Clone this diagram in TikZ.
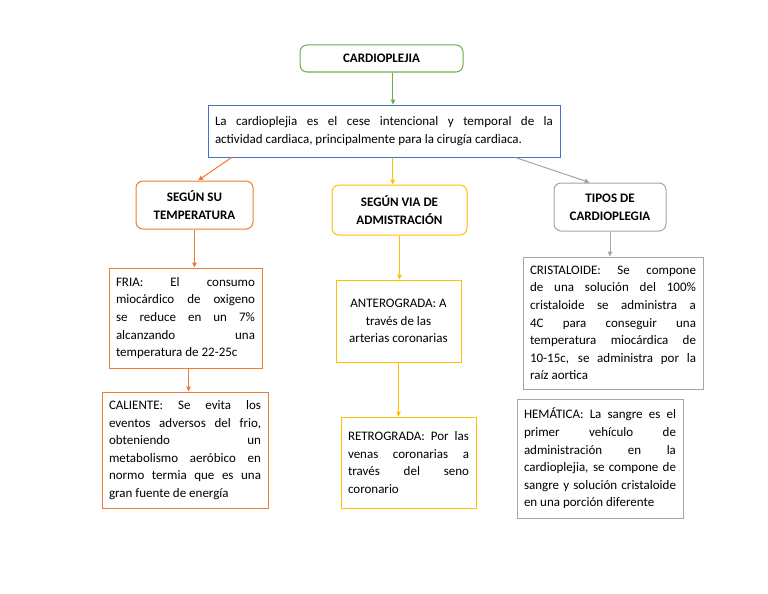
\documentclass[tikz,border=0pt]{standalone}
\usepackage{fontspec}
\setmainfont{Carlito}
\usepackage{xcolor}
\usetikzlibrary{positioning,arrows.meta,calc}
\definecolor{mapgreen}{HTML}{70AD47}
\definecolor{mapblue}{HTML}{4472C4}
\definecolor{maporange}{HTML}{ED7D31}
\definecolor{mapyellow}{HTML}{FFC000}
\definecolor{mapgrey}{HTML}{A5A5A5}
\tikzset{
  box/.style={
    draw, fill=white, inner ysep=2pt, text=black, line width=1pt,
    font=\fontsize{13}{17.6}\selectfont,
  },
  head/.style ={box, rounded corners=7pt, align=center,
                font=\fontsize{13}{17.6}\selectfont\bfseries},
  para/.style ={box, align=justify, inner xsep=7pt},
  link/.style ={-{Triangle[length=5pt,width=4.5pt]}, line width=1pt},
}
\tolerance=10000
\hyphenpenalty=10000

\begin{document}
\begin{tikzpicture}[x=1pt, y=-1pt]
\useasboundingbox (0,0) rectangle (768,594);

% ============================================ top
\node[head, draw=mapgreen, minimum width=163pt, minimum height=27pt]
  (cardio) at (381.5,58.5) {CARDIOPLEJIA};
\node[para, draw=mapblue, text width=338pt, minimum height=52pt]
  (defn) at (384,131)
  {La cardioplejia es el cese intencional y temporal de la\linebreak
   actividad cardiaca, principalmente para la cirugía cardiaca.};

% ============================================ left: temperatura
\node[head, draw=maporange, minimum width=117pt, minimum height=48pt]
  (temp) at (194.5,205) {SEGÚN SU\\TEMPERATURA};
\node[para, draw=maporange, text width=139pt, minimum height=100pt]
  (fria) at (185.5,318)
  {FRIA: El consumo\linebreak miocárdico de oxigeno\linebreak
   se reduce en un 7\%\linebreak alcanzando una\linebreak
   temperatura de 22-25c};
\node[para, draw=maporange, text width=152pt, minimum height=116pt]
  (caliente) at (185,450)
  {CALIENTE: Se evita los\linebreak eventos adversos del frio,\linebreak
   obteniendo un\linebreak metabolismo aeróbico en\linebreak
   normo termia que es una\linebreak gran fuente de energía};

% ============================================ centre: via
\node[head, draw=mapyellow, minimum width=135pt, minimum height=50pt]
  (via) at (399.5,210) {SEGÚN VIA DE\\ADMISTRACIÓN};
\node[box, draw=mapyellow, align=center, minimum width=125pt, minimum height=82pt]
  (antero) at (398.5,321)
  {ANTEROGRADA: A\\través de las\\arterias coronarias};
\node[para, draw=mapyellow, text width=121pt, minimum height=91pt]
  (retro) at (408.5,462.5)
  {RETROGRADA: Por las\linebreak venas coronarias a\linebreak
   través del seno\linebreak coronario};

% ============================================ right: tipos
\node[head, draw=mapgrey, minimum width=112pt, minimum height=48pt]
  (tipos) at (610,207) {TIPOS DE\\CARDIOPLEGIA};
\node[para, draw=mapgrey, text width=166pt, minimum height=132pt]
  (crista) at (613,323)
  {CRISTALOIDE: Se compone\linebreak de una solución del 100\%\linebreak
   cristaloide se administra a\linebreak 4C para conseguir una\linebreak
   temperatura miocárdica de\linebreak 10-15c, se administra por la\linebreak
   raíz aortica};
\node[para, draw=mapgrey, text width=152pt, minimum height=119pt]
  (hemat) at (600,458.5)
  {HEMÁTICA: La sangre es el\linebreak primer vehículo de\linebreak
   administración en la\linebreak cardioplejia, se compone de\linebreak
   sangre y solución cristaloide\linebreak en una porción diferente};

% ============================================ connectors
\coordinate (cardioout) at ($(cardio.south west)!0.57!(cardio.south east)$);
\draw[link, draw=mapgreen, fill=mapgreen] (cardioout) -- (cardioout |- defn.north);

\draw[link, draw=maporange, fill=maporange]
  ($(defn.south west)!0.068!(defn.south east)$) -- ($(temp.north west)!0.53!(temp.north east)$);
\draw[link, draw=maporange, fill=maporange] (temp.south) -- (temp.south |- fria.north);
\draw[link, draw=maporange, fill=maporange]
  ($(fria.south west)!0.52!(fria.south east)$) coordinate (friaout)
  -- (friaout |- caliente.north);

\coordinate (viain) at ($(via.north west)!0.45!(via.north east)$);
\draw[link, draw=mapyellow, fill=mapyellow] (viain |- defn.south) -- (viain);
\draw[link, draw=mapyellow, fill=mapyellow] (via.south) -- (via.south |- antero.north);
\draw[link, draw=mapyellow, fill=mapyellow] (antero.south) -- (antero.south |- retro.north);

\draw[link, draw=mapgrey, fill=mapgrey]
  ($(defn.south west)!0.872!(defn.south east)$) -- ($(tipos.north west)!0.32!(tipos.north east)$);
\draw[link, draw=mapgrey, fill=mapgrey] (tipos.south) -- (tipos.south |- crista.north);

\end{tikzpicture}
\end{document}
